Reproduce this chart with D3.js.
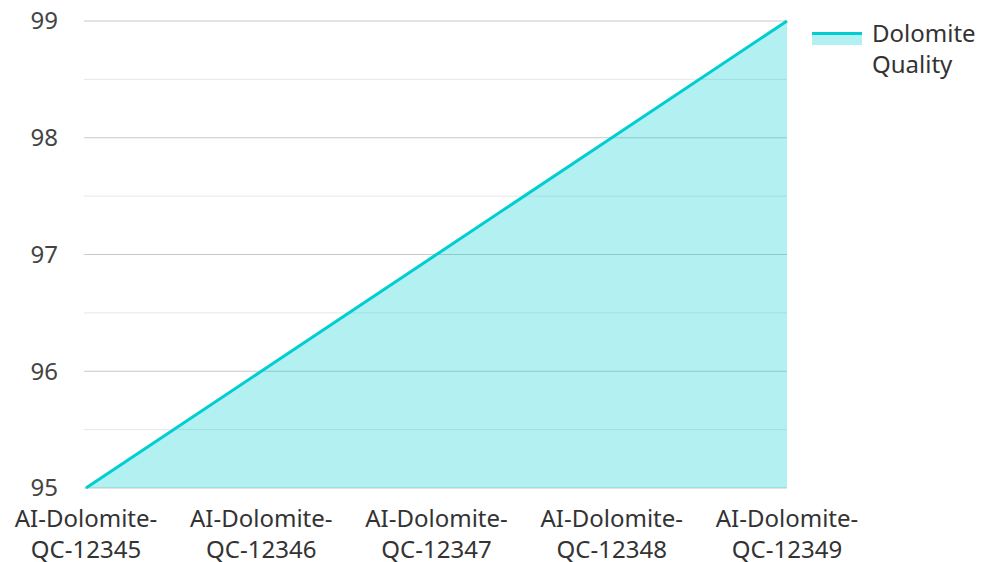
<!DOCTYPE html>
<html>
<head>
<meta charset="utf-8">
<script src="https://cdn.jsdelivr.net/npm/d3@7"></script>
<style>
  body { margin: 0; background: #fff; }
  text { font-family: "Noto Sans", "Open Sans", sans-serif; }
</style>
</head>
<body>
<div id="chart"></div>
<script>
// data
const categories = ["AI-Dolomite-QC-12345", "AI-Dolomite-QC-12346", "AI-Dolomite-QC-12347", "AI-Dolomite-QC-12348", "AI-Dolomite-QC-12349"];
const quality = [95, 96, 97, 98, 99];
const majorTicks = [95, 96, 97, 98, 99];
const minorTicks = [95.5, 96.5, 97.5, 98.5];
const seriesName = ["Dolomite", "Quality"];

const width = 982, height = 562;
const margin = { top: 21, right: 195, bottom: 74, left: 86 };
const innerW = width - margin.left - margin.right;
const innerH = height - margin.top - margin.bottom;

let svg = d3.select("#chart")
    .append("svg")
    .attr("width", width)
    .attr("height", height)
    .append("g")
    .attr("transform", `translate(${margin.left}, ${margin.top})`);

let x = d3.scalePoint()
    .domain(categories)
    .range([0, innerW]);

let y = d3.scaleLinear()
    .domain([95, 99])
    .range([innerH, 0]);

// grid lines
svg.append("g").selectAll("line").data(minorTicks).enter()
    .append("line")
    .attr("x1", -2).attr("x2", innerW)
    .attr("y1", d => y(d)).attr("y2", d => y(d))
    .attr("stroke", "#e6e6e6").attr("stroke-width", 1);

svg.append("g").selectAll("line").data(majorTicks).enter()
    .append("line")
    .attr("x1", -2).attr("x2", innerW)
    .attr("y1", d => y(d)).attr("y2", d => y(d))
    .attr("stroke", "#c8c8c8").attr("stroke-width", 1);

const pts = categories.map((c, i) => ({ c: c, v: quality[i] }));

// area + line
svg.append("path")
    .datum(pts)
    .attr("fill", "rgba(0,206,209,0.3)")
    .attr("d", d3.area().x(d => x(d.c)).y0(y(95)).y1(d => y(d.v)));

svg.append("path")
    .datum(pts)
    .attr("fill", "none")
    .attr("stroke", "#00ced1")
    .attr("stroke-width", 3)
    .attr("d", d3.line().x(d => x(d.c)).y(d => y(d.v)));

// y axis labels
svg.append("g").selectAll("text").data(majorTicks).enter()
    .append("text")
    .attr("x", -28)
    .attr("y", d => y(d))
    .attr("dy", "0.35em")
    .style("text-anchor", "end")
    .style("font-size", "24px")
    .style("fill", "#444")
    .text(d => d);

// x axis labels, split before "QC"
let xl = svg.append("g").selectAll("text").data(categories).enter()
    .append("text")
    .attr("x", d => x(d))
    .attr("y", innerH + 39)
    .style("text-anchor", "middle")
    .style("font-size", "24px")
    .style("fill", "#333");
xl.append("tspan").attr("x", d => x(d)).text(d => d.slice(0, d.indexOf("QC")));
xl.append("tspan").attr("x", d => x(d)).attr("dy", 31).text(d => d.slice(d.indexOf("QC")));

// legend
let legend = svg.append("g").attr("transform", `translate(${innerW + 25}, 0)`);
legend.append("rect")
    .attr("x", 0).attr("y", 12).attr("width", 50).attr("height", 12)
    .attr("fill", "rgba(0,206,209,0.3)");
legend.append("line")
    .attr("x1", 0).attr("x2", 50).attr("y1", 12.5).attr("y2", 12.5)
    .attr("stroke", "#00ced1").attr("stroke-width", 3);
legend.append("text")
    .attr("x", 60).attr("y", 21)
    .style("font-size", "24px")
    .style("fill", "#333")
    .selectAll("tspan").data(seriesName).enter()
    .append("tspan")
    .attr("x", 60)
    .attr("dy", (d, i) => i === 0 ? 0 : 31)
    .text(d => d);
</script>
</body>
</html>
